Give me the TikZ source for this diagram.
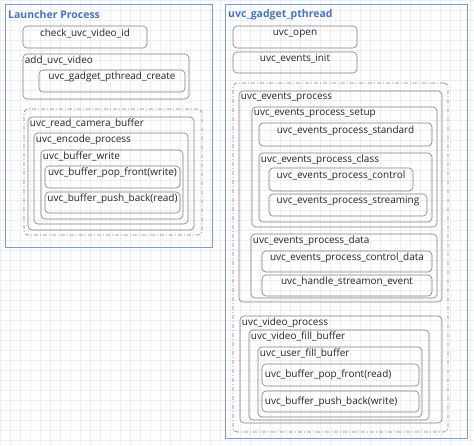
\documentclass[tikz,border=0pt]{standalone}
\usepackage{fontspec}
\setmainfont{Open Sans}
\usetikzlibrary{fit}
\definecolor{panelblue}{RGB}{125,155,205}
\definecolor{titleblue}{RGB}{70,115,185}
\definecolor{boxgray}{RGB}{125,125,125}
\definecolor{gridline}{RGB}{236,238,243}
\tikzset{
  panel/.style={draw=panelblue, line width=1pt, inner sep=0pt},
  fn/.style={draw=boxgray, line width=0.6pt, rounded corners=4pt, inner sep=0pt, font=\fontsize{10}{12}\selectfont, text=black!85},
  grp/.style={draw=boxgray, line width=0.6pt, rounded corners=4pt, inner sep=0pt},
  grplabel/.style={anchor=north west, inner sep=2pt, font=\fontsize{10}{12}\selectfont, text=black!85},
  loopbox/.style={draw=boxgray, line width=0.6pt, rounded corners=4pt, inner sep=0pt, dash pattern=on 4pt off 2pt on 1pt off 2pt},
  title/.style={anchor=west, inner sep=0pt, font=\bfseries\fontsize{10.5}{12}\selectfont, text=titleblue}
}
\begin{document}
\begin{tikzpicture}[x=1pt,y=-1pt]
\useasboundingbox (0,0) rectangle (474,445);
\fill[white] (0,0) rectangle (474,445);
\foreach \gx in {0,10,...,470} \draw[gridline, line width=0.3pt] (\gx,0) -- (\gx,445);
\foreach \gy in {0,10,...,440} \draw[gridline, line width=0.3pt] (0,\gy) -- (474,\gy);

% Launcher Process
\node[panel, fit={(5,4) (212,247)}] (launcher) {};
\node[title] (launchertitle) at (8,15) {Launcher Process};
\node[fn, fit={(23,26) (147,48)}] (checkid) {check\_uvc\_video\_id};
\node[grp, fit={(23,54) (189,99)}, label={[grplabel]north west:add\_uvc\_video}] (addvideo) {};
\node[fn, fit={(39,70) (185,92)}] (pthreadcreate) {uvc\_gadget\_pthread\_create};
\node[loopbox, fit={(24,109) (202,235)}] (launcherloop) {};
\node[grp, fit={(28,117) (194,230)}, label={[grplabel]north west:uvc\_read\_camera\_buffer}] (readcam) {};
\node[grp, fit={(34,133) (188,224)}, label={[grplabel]north west:uvc\_encode\_process}] (encode) {};
\node[grp, fit={(41,150) (183,219)}, label={[grplabel]north west:uvc\_buffer\_write}] (bufwrite) {};
\node[fn, fit={(45,166) (180,188)}] (popwrite) {uvc\_buffer\_pop\_front(write)};
\node[fn, fit={(45,192) (180,213)}] (pushread) {uvc\_buffer\_push\_back(read)};

% uvc_gadget_pthread
\node[panel, fit={(225,4) (467,438)}] (gadget) {};
\node[title] (gadgettitle) at (228,15) {uvc\_gadget\_pthread};
\node[fn, fit={(233,26) (357,48)}] (uvcopen) {uvc\_open};
\node[fn, fit={(233,52) (357,73)}] (eventsinit) {uvc\_events\_init};
\node[loopbox, fit={(233,83) (448,432)}] (gadgetloop) {};
\node[grp, fit={(239,91) (442,302)}, label={[grplabel]north west:uvc\_events\_process}] (evprocess) {};
\node[grp, fit={(252,107) (437,227)}, label={[grplabel]north west:uvc\_events\_process\_setup}] (evsetup) {};
\node[fn, fit={(259,123) (432,146)}] (evstandard) {uvc\_events\_process\_standard};
\node[grp, fit={(259,153) (432,222)}, label={[grplabel]north west:uvc\_events\_process\_class}] (evclass) {};
\node[fn, fit={(269,168) (413,191)}] (evcontrol) {uvc\_events\_process\_control};
\node[fn, fit={(269,194) (427,216)}] (evstreaming) {uvc\_events\_process\_streaming};
\node[grp, fit={(251,234) (437,298)}, label={[grplabel]north west:uvc\_events\_process\_data}] (evdata) {};
\node[fn, fit={(262,251) (432,272)}] (evctrldata) {uvc\_events\_process\_control\_data};
\node[fn, fit={(262,275) (432,296)}] (streamon) {uvc\_handle\_streamon\_event};
\node[grp, fit={(240,316) (442,423)}, label={[grplabel]north west:uvc\_video\_process}] (vprocess) {};
\node[grp, fit={(249,330) (429,420)}, label={[grplabel]north west:uvc\_video\_fill\_buffer}] (vfill) {};
\node[grp, fit={(258,347) (422,417)}, label={[grplabel]north west:uvc\_user\_fill\_buffer}] (userfill) {};
\node[fn, fit={(262,364) (419,386)}, label={[grplabel, anchor=west, inner sep=3pt]west:uvc\_buffer\_pop\_front(read)}] (popread) {};
\node[fn, fit={(262,391) (419,412)}, label={[grplabel, anchor=west, inner sep=3pt]west:uvc\_buffer\_push\_back(write)}] (pushwrite) {};
\end{tikzpicture}
\end{document}
